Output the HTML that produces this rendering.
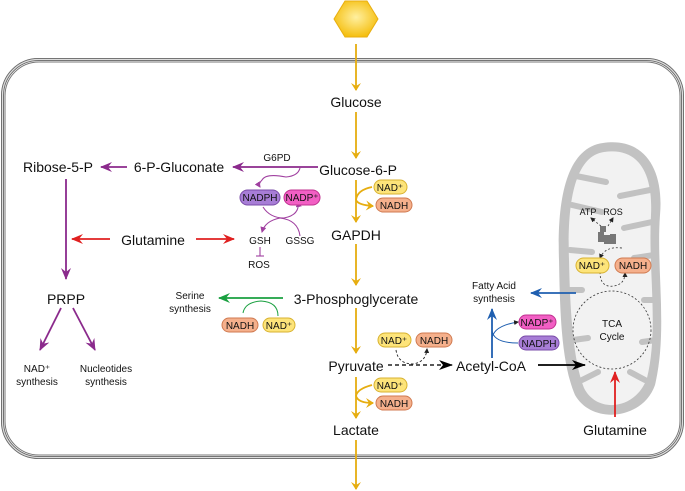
<!DOCTYPE html>
<html><head><meta charset="utf-8"><style>
html,body{margin:0;padding:0;background:#fff;width:685px;height:491px;overflow:hidden}
text{font-family:"Liberation Sans",sans-serif;fill:#111}
.b{font-size:14px}.s{font-size:10px}.p{font-size:10px;text-anchor:middle}
</style></head><body>
<svg width="685" height="491" viewBox="0 0 685 491" xmlns="http://www.w3.org/2000/svg">
<defs>
<radialGradient id="hg" cx="50%" cy="45%" r="55%"><stop offset="0" stop-color="#fff0a0"/><stop offset="1" stop-color="#f5bf10"/></radialGradient>
<marker id="ay" markerWidth="8" markerHeight="10" refX="7" refY="5" orient="auto" markerUnits="userSpaceOnUse"><path d="M0,0 L8,5 L0,10 L3,5z" fill="#e6ad10"/></marker>
<marker id="ap" markerWidth="12" markerHeight="10" refX="11" refY="5" orient="auto" markerUnits="userSpaceOnUse"><path d="M0,0 L12,5 L0,10 L4,5z" fill="#8b2a8c"/></marker>
<marker id="ap2" markerWidth="6" markerHeight="6" refX="5" refY="3" orient="auto" markerUnits="userSpaceOnUse"><path d="M0,0 L6,3 L0,6z" fill="#a040a0"/></marker>
<marker id="ar" markerWidth="12" markerHeight="10" refX="11" refY="5" orient="auto" markerUnits="userSpaceOnUse"><path d="M0,0 L12,5 L0,10 L4,5z" fill="#e02020"/></marker>
<marker id="ag" markerWidth="12" markerHeight="10" refX="11" refY="5" orient="auto" markerUnits="userSpaceOnUse"><path d="M0,0 L12,5 L0,10 L4,5z" fill="#1aa040"/></marker>
<marker id="ab" markerWidth="12" markerHeight="10" refX="11" refY="5" orient="auto" markerUnits="userSpaceOnUse"><path d="M0,0 L12,5 L0,10 L4,5z" fill="#1f5fb0"/></marker>
<marker id="ak" markerWidth="14" markerHeight="10" refX="13" refY="5" orient="auto" markerUnits="userSpaceOnUse"><path d="M0,0 L14,5 L0,10 L4,5z" fill="#000"/></marker>
<marker id="as" markerWidth="5" markerHeight="5" refX="4" refY="2.5" orient="auto" markerUnits="userSpaceOnUse"><path d="M0,0 L5,2.5 L0,5z" fill="#222"/></marker>
</defs>
<!-- cell -->
<rect x="2.5" y="59.5" width="680" height="398" rx="36" fill="none" stroke="#666" stroke-width="3"/>
<rect x="2.5" y="59.5" width="680" height="398" rx="36" fill="none" stroke="#ddd" stroke-width="1.2"/>
<rect x="5" y="62" width="675" height="393" rx="34" fill="#fff" stroke="#777" stroke-width="1"/>
<!-- hexagon -->
<polygon points="345,1 367,1 378,19 367,37 345,37 334,19" fill="url(#hg)" stroke="#e8ae10"/>
<!-- main yellow line -->
<g stroke="#e6ad10" stroke-width="1.8" fill="none" marker-end="url(#ay)">
<line x1="356" y1="44" x2="356" y2="90"/>
<line x1="356" y1="112" x2="356" y2="158"/>
<line x1="356" y1="180" x2="356" y2="222"/>
<line x1="356" y1="244" x2="356" y2="285"/>
<line x1="356" y1="308" x2="356" y2="353"/>
<line x1="356" y1="377" x2="356" y2="418"/>
<line x1="356" y1="440" x2="356" y2="489"/>
<path d="M356,200 Q357,190 372,187" marker-end="none"/>
<path d="M356,200 Q358,205 373,206"/>
<path d="M356,396 Q357,389 372,385" marker-end="none"/>
<path d="M356,396 Q358,403 373,403"/>
</g>
<g class="b" text-anchor="middle">
<text x="356" y="107">Glucose</text>
<text x="358" y="175">Glucose-6-P</text>
<text x="356" y="240">GAPDH</text>
<text x="356" y="304">3-Phosphoglycerate</text>
<text x="356" y="371">Pyruvate</text>
<text x="491" y="371">Acetyl-CoA</text>
<text x="356" y="435">Lactate</text>
<text x="58" y="172">Ribose-5-P</text>
<text x="179" y="172">6-P-Gluconate</text>
<text x="153" y="245">Glutamine</text>
<text x="66" y="304">PRPP</text>
<text x="615" y="435">Glutamine</text>
</g>
<!-- purple -->
<g stroke="#8b2a8c" stroke-width="1.8" fill="none" marker-end="url(#ap)">
<line x1="318" y1="167" x2="233" y2="167"/>
<line x1="127" y1="167" x2="101" y2="167"/>
<line x1="66" y1="179" x2="66" y2="279"/>
<line x1="61" y1="308" x2="40" y2="350"/>
<line x1="73" y1="308" x2="95" y2="350"/>
</g>
<g stroke="#a040a0" stroke-width="1.1" fill="none" marker-end="url(#ap2)">
<path d="M300,168 Q298,176 286,177 Q266,173 262,180 Q258,184 260,187"/>
<path d="M263,207 Q270,218 284,218 Q300,215 298,202"/>
<path d="M300,236 Q298,220 280,218 Q265,221 262,232"/>
<line x1="260" y1="247" x2="260" y2="256" marker-end="none"/>
<line x1="256" y1="256" x2="264" y2="256" marker-end="none"/>
</g>
<text class="p" x="277" y="161">G6PD</text>
<rect x="240" y="190" width="40" height="15" rx="7.5" fill="#a77dd6" stroke="#7a4ca8"/>
<text class="p" x="260" y="201">NADPH</text>
<rect x="284" y="190" width="36" height="15" rx="7.5" fill="#f25fc4" stroke="#c0308f"/>
<text class="p" x="302" y="201">NADP⁺</text>
<text class="p" x="260" y="244">GSH</text>
<text class="p" x="300" y="244">GSSG</text>
<text class="p" x="259" y="268">ROS</text>
<!-- red -->
<g stroke="#e02020" stroke-width="1.8" fill="none" marker-end="url(#ar)">
<line x1="110" y1="239" x2="72" y2="239"/>
<line x1="196" y1="239" x2="234" y2="239"/>
</g>
<text class="p" x="37" y="372">NAD⁺</text><text class="p" x="37" y="385">synthesis</text>
<text class="p" x="106" y="372">Nucleotides</text><text class="p" x="106" y="385">synthesis</text>
<!-- green -->
<g stroke="#1aa040" stroke-width="1.8" fill="none"><line x1="283" y1="298" x2="219" y2="298" marker-end="url(#ag)"/>
<path d="M278,316 Q278,302 261,301 Q245,302 243,313" stroke-width="1"/></g>
<text class="p" x="190" y="299">Serine</text><text class="p" x="190" y="312">synthesis</text>
<rect x="222" y="318" width="36" height="14" rx="7" fill="#f5b08c" stroke="#d07a50"/><text class="p" x="240" y="329">NADH</text>
<rect x="263" y="318" width="32" height="14" rx="7" fill="#fde47a" stroke="#d8b230"/><text class="p" x="279" y="329">NAD⁺</text>
<!-- yellow pills main -->
<rect x="374" y="180" width="33" height="14" rx="7" fill="#fde47a" stroke="#d8b230"/><text class="p" x="390" y="191">NAD⁺</text>
<rect x="376" y="198" width="36" height="14" rx="7" fill="#f5b08c" stroke="#d07a50"/><text class="p" x="394" y="209">NADH</text>
<rect x="374" y="378" width="33" height="14" rx="7" fill="#fde47a" stroke="#d8b230"/><text class="p" x="390" y="389">NAD⁺</text>
<rect x="376" y="396" width="36" height="14" rx="7" fill="#f5b08c" stroke="#d07a50"/><text class="p" x="394" y="407">NADH</text>
<rect x="378" y="333" width="33" height="14" rx="7" fill="#fde47a" stroke="#d8b230"/><text class="p" x="394" y="344">NAD⁺</text>
<rect x="416" y="333" width="36" height="14" rx="7" fill="#f5b08c" stroke="#d07a50"/><text class="p" x="434" y="344">NADH</text>
<g stroke="#222" stroke-width="1.3" fill="none" stroke-dasharray="4,3">
<line x1="388" y1="365" x2="452" y2="365" marker-end="url(#ak)" stroke-width="1.6"/>
<path d="M396,350 Q398,364 413,364 Q426,362 427,349" stroke-width="0.9" stroke-dasharray="2.5,2" marker-end="url(#as)"/>
</g>
<!-- mitochondria -->
<path d="M603,143 C645,137 664,170 660,215 C656,270 668,330 655,385 C643,420 592,425 575,395 C561,362 560,310 559,260 C557,200 566,148 603,143Z" fill="#c2c2c2"/>
<path d="M604,152 C640,147 653,175 651,215 C648,270 659,330 647,378 C636,410 597,414 584,388 C573,360 570,310 569,260 C567,205 574,156 604,152Z" fill="#f2f2f2"/>
<g stroke="#c2c2c2" stroke-width="6" stroke-linecap="round" fill="none">
<path d="M576,176 L606,182"/><path d="M650,190 L620,196"/><path d="M572,205 L602,212"/><path d="M652,222 L624,228"/>
<path d="M570,250 L592,252"/><path d="M654,255 L634,258"/><path d="M570,290 L582,290"/><path d="M656,300 L644,300"/>
<path d="M573,340 L588,338"/><path d="M656,340 L642,342"/><path d="M582,380 L598,372"/><path d="M645,380 L630,372"/>
</g>
<g fill="#777"><rect x="598" y="232" width="6" height="10"/><rect x="604" y="235" width="6" height="9"/><rect x="610" y="234" width="6" height="10"/><rect x="600" y="226" width="6" height="6"/></g>
<text class="p" x="588" y="215" style="font-size:9px">ATP</text><text class="p" x="613" y="215" style="font-size:9px">ROS</text>
<g stroke="#333" stroke-width="0.8" stroke-dasharray="2,2" fill="none">
<line x1="601" y1="226" x2="591" y2="218" marker-end="url(#as)"/><line x1="608" y1="226" x2="613" y2="218" marker-end="url(#as)"/>
<path d="M622,248 Q605,246 600,258" marker-end="url(#as)"/>
<path d="M600,272 Q600,288 614,286 Q625,284 625,273" marker-end="url(#as)"/>
<circle cx="612" cy="330" r="39"/>
</g>
<rect x="576" y="258" width="33" height="15" rx="7.5" fill="#fde47a" stroke="#d8b230"/><text class="p" x="592" y="269">NAD⁺</text>
<rect x="615" y="258" width="36" height="15" rx="7.5" fill="#f5b08c" stroke="#d07a50"/><text class="p" x="633" y="269">NADH</text>
<text class="p" x="612" y="327">TCA</text><text class="p" x="612" y="340">Cycle</text>
<line x1="538" y1="365" x2="585" y2="365" stroke="#000" stroke-width="1.8" marker-end="url(#ak)"/>
<line x1="615" y1="417" x2="615" y2="372" stroke="#e02020" stroke-width="1.8" marker-end="url(#ar)"/>
<!-- blue -->
<g stroke="#1f5fb0" stroke-width="1.8" fill="none">
<line x1="576" y1="293" x2="531" y2="293" marker-end="url(#ab)"/>
<line x1="492" y1="358" x2="492" y2="309" marker-end="url(#ab)"/>
<path d="M492,340 Q492,326 518,322" stroke-width="1" marker-end="url(#as)"/>
<path d="M492,330 Q493,343 518,343" stroke-width="1"/>
</g>
<text class="p" x="494" y="289">Fatty Acid</text><text class="p" x="494" y="302">synthesis</text>
<rect x="519" y="315" width="37" height="14" rx="7" fill="#f25fc4" stroke="#c0308f"/><text class="p" x="537" y="326">NADP⁺</text>
<rect x="519" y="336" width="40" height="14" rx="7" fill="#a77dd6" stroke="#7a4ca8"/><text class="p" x="539" y="347">NADPH</text>
</svg>
</body></html>
